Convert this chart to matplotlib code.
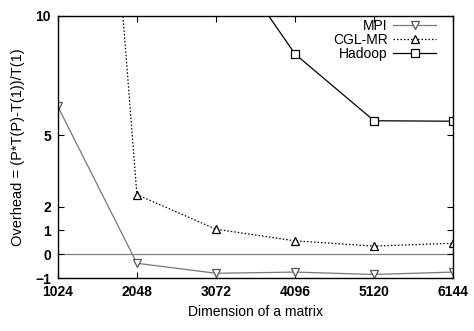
import matplotlib
matplotlib.use("Agg")
import matplotlib.pyplot as plt

# dimension of a matrix
sizes = [1024, 2048, 3072, 4096, 5120, 6144]

# overhead values (off-scale points estimated from the line slope)
mpi = [6.2, -0.38, -0.8, -0.75, -0.85, -0.75]
cgl_mr = [45.0, 2.5, 1.05, 0.56, 0.34, 0.46]
hadoop_sizes = [3072, 4096, 5120, 6144]
hadoop = [13.2, 8.4, 5.6, 5.58]

y_ticks = [-1, 0, 1, 2, 5, 10]

plt.rcParams["font.family"] = ["Liberation Sans", "DejaVu Sans"]
plt.rcParams["font.size"] = 10
plt.rcParams["font.weight"] = "bold"

fig = plt.figure(figsize=(4.74, 3.31), dpi=100)
ax = fig.add_axes([0.122, 0.160, 0.834, 0.792])

ax.axhline(0, color="#808080", lw=0.9, zorder=1)

ax.plot(sizes, mpi, color="#777777", lw=0.9, marker="v", markersize=6,
        markerfacecolor="white", markeredgecolor="#555555", markeredgewidth=0.9,
        label="MPI")
ax.plot(sizes, cgl_mr, color="black", lw=0.9, linestyle=(0, (1.2, 1.6)), marker="^",
        markersize=6, markerfacecolor="white", markeredgewidth=0.9,
        label="CGL-MR")
ax.plot(hadoop_sizes, hadoop, color="black", lw=0.9, marker="s", markersize=6,
        markerfacecolor="white", markeredgewidth=0.9, label="Hadoop")

ax.set_xlim(1024, 6144)
ax.set_ylim(-1, 10)
ax.set_xticks(sizes)
ax.set_yticks(y_ticks)
ax.tick_params(direction="in", top=True, right=True, length=4, width=0.8)
ax.tick_params(axis="x", pad=5.0)
ax.tick_params(axis="y", pad=5.0)
for sp in ax.spines.values():
    sp.set_linewidth(1.0)

ax.set_xlabel("Dimension of a matrix", labelpad=4, fontweight="normal", fontsize=10)
ax.set_ylabel("Overhead = (P*T(P)-T(1))/T(1)", labelpad=7, fontweight="normal",
              fontsize=10.5)

ax.legend(loc="upper right", frameon=False, markerfirst=False, handlelength=3.1,
          labelspacing=0.0, borderaxespad=0.0, borderpad=0.0, handletextpad=0.4,
          bbox_to_anchor=(0.957, 0.99), prop={"size": 10, "weight": "normal"})

fig.savefig("out.png", dpi=100)
